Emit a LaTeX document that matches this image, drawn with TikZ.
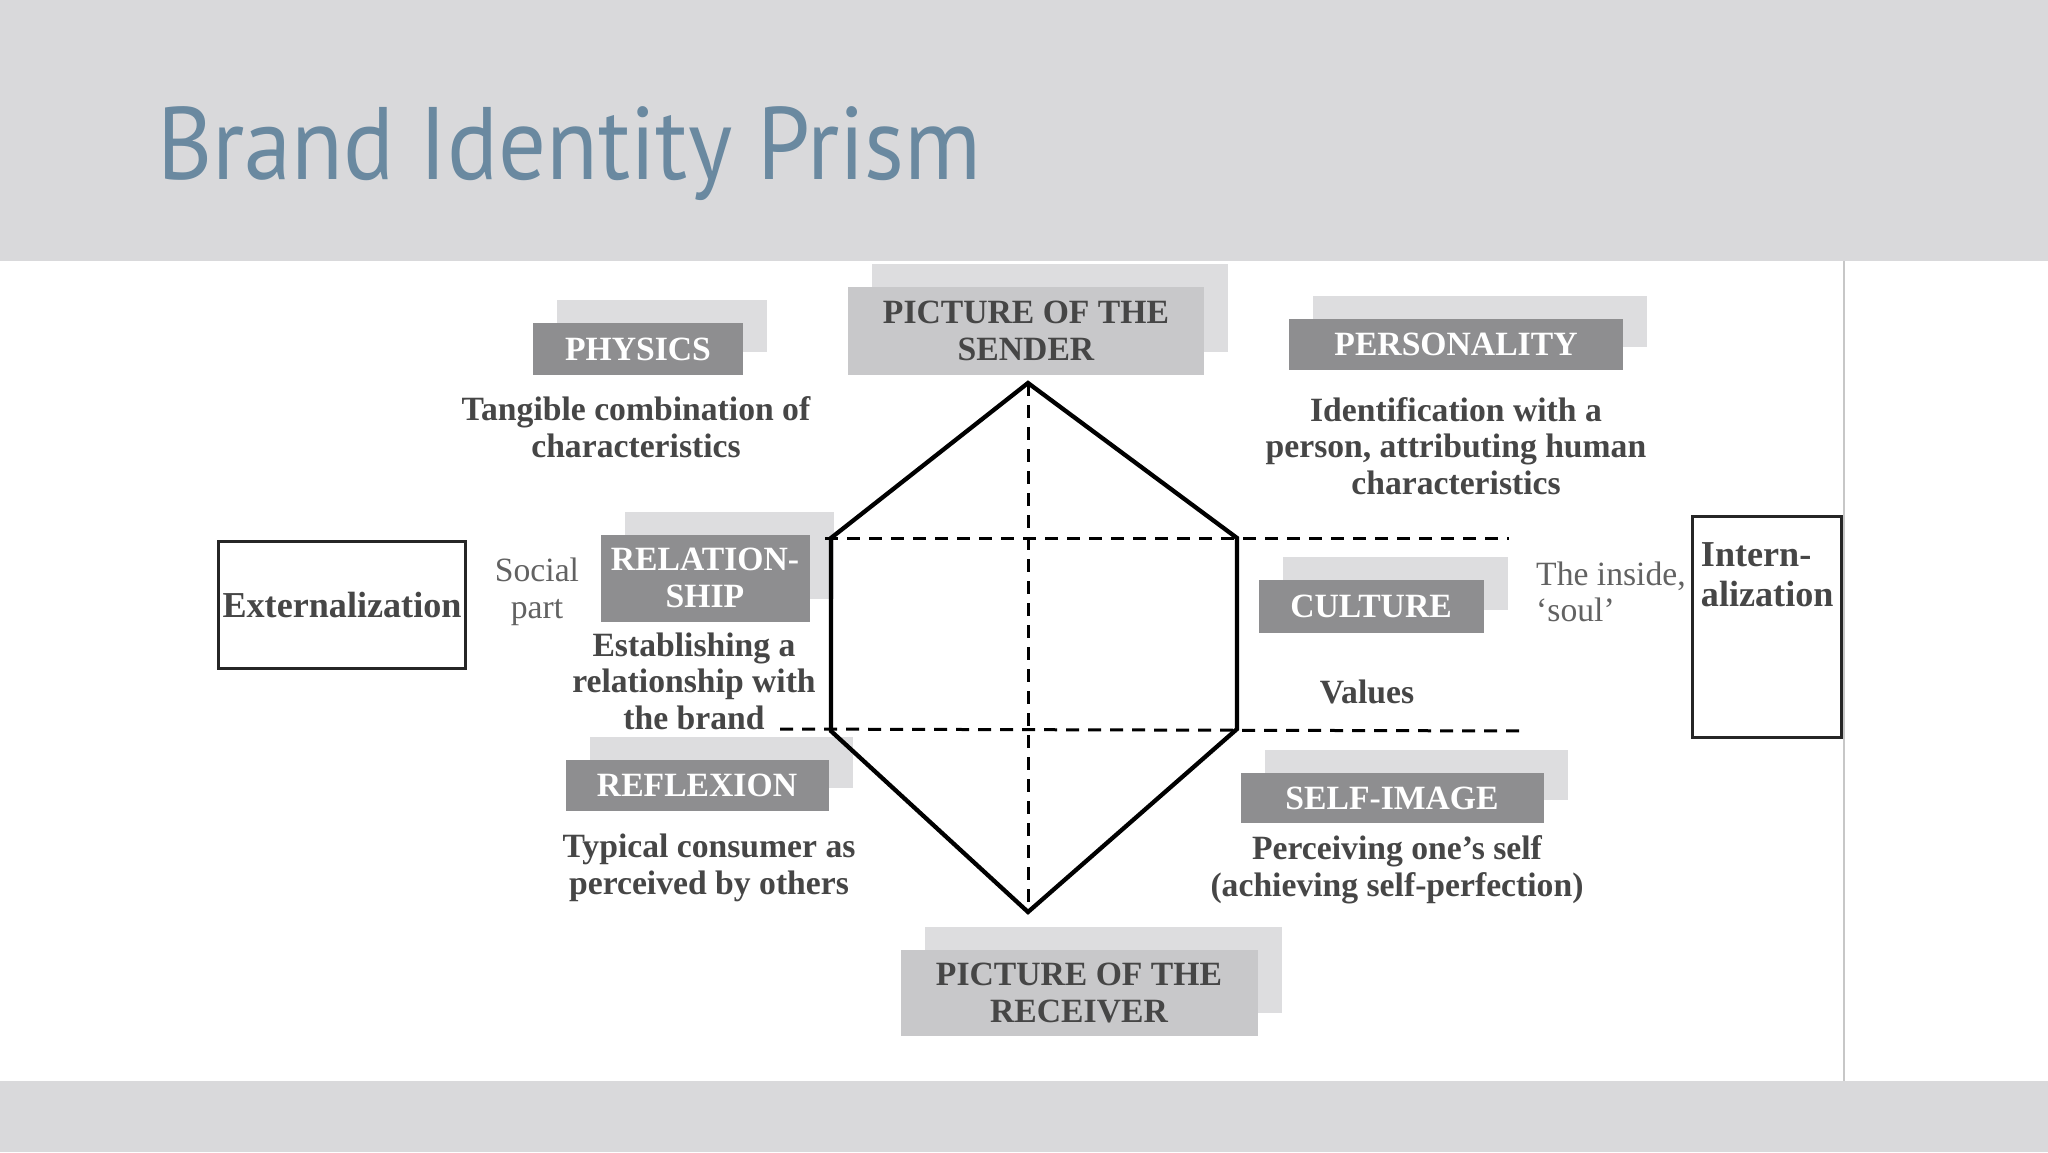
\documentclass[tikz,border=0pt]{standalone}
\usepackage{fontspec}
\usetikzlibrary{calc}
\newfontfamily\diagfont[FakeStretch=0.99]{Liberation Serif}
\newfontfamily\titlefont[FakeStretch=0.92]{PT Sans}
\definecolor{bandgray}{HTML}{D9D9DB}
\definecolor{titleblue}{HTML}{6A89A0}
\definecolor{platedark}{HTML}{8E8E90}
\definecolor{platemid}{HTML}{C8C8CA}
\definecolor{plateback}{HTML}{DDDDDF}
\definecolor{inkgray}{HTML}{464646}

\begin{document}
\begin{tikzpicture}[
    x=1pt,y=-1pt,
    txt/.style={font=\diagfont\fontsize{34}{36.5}\selectfont\bfseries,text=inkgray,
                align=center,inner sep=0pt},
    thin txt/.style={font=\diagfont\fontsize{34}{36.5}\selectfont,text=inkgray!85,
                align=center,inner sep=0pt},
    big txt/.style={font=\diagfont\fontsize{36.5}{40}\selectfont\bfseries,text=inkgray,
                inner sep=0pt},
    backplate/.style={fill=plateback,inner sep=0pt},
    darkplate/.style={fill=platedark,inner sep=0pt,text=white,align=center,
                font=\diagfont\fontsize{34}{36.5}\selectfont\bfseries},
    midplate/.style={fill=platemid,inner sep=0pt,text=inkgray,align=center,
                font=\diagfont\fontsize{34}{36.5}\selectfont\bfseries},
    prism/.style={line width=4.3pt,line join=miter},
    guide/.style={line width=3pt,dash pattern=on 13pt off 9pt},
    frame/.style={draw=black!85,line width=3.5pt,inner sep=0pt},
  ]
  \useasboundingbox (0,0) rectangle (2048,1152);

  % ---------------------------------------------------------------- slide
  \fill[white] (0,261) rectangle (2048,1081);
  \fill[bandgray] (0,0) rectangle (2048,261);
  \fill[bandgray] (0,1081) rectangle (2048,1152);
  \draw[black!22,line width=2pt] (1844,261) -- (1844,1081);
  \node[anchor=base west,inner sep=0pt,text=titleblue,
        font=\titlefont\fontsize{103}{110}\selectfont] (title) at (157,179)
    {Brand Identity Prism};

  % ---------------------------------------------------------------- plates
  % One label: a light plate behind, the named plate in front.
  % #1 = name, #2 = centre, #3 = width, #4 = height, #5 = style, #6 = text
  \newcommand{\plate}[6]{
    \node[backplate,minimum width=#3,minimum height=#4] at ($(#2)+(24,-23)$) {};
    \node[#5,minimum width=#3,minimum height=#4] (#1) at (#2) {#6};
  }
  \plate{physics}{638,349}{210pt}{52pt}{darkplate}{PHYSICS}
  \plate{sender}{1026,331}{356pt}{88pt}{midplate}{PICTURE OF THE\\SENDER}
  \plate{personality}{1456,344}{334pt}{51pt}{darkplate}{PERSONALITY}
  \plate{relationship}{705,578}{209pt}{87pt}{darkplate}{RELATION-\\SHIP}
  \plate{culture}{1371,606}{225pt}{53pt}{darkplate}{CULTURE}
  \plate{reflexion}{697,785}{263pt}{51pt}{darkplate}{REFLEXION}
  \plate{selfimage}{1392,798}{303pt}{50pt}{darkplate}{SELF-IMAGE}
  \plate{receiver}{1079,993}{357pt}{86pt}{midplate}{PICTURE OF THE\\RECEIVER}

  % ---------------------------------------------------------------- prism
  \coordinate (T)  at (1028,383);
  \coordinate (UL) at (831,538);
  \coordinate (UR) at (1237,538);
  \coordinate (LL) at (831,731);
  \coordinate (LR) at (1237,729);
  \coordinate (B)  at (1028,912);
  \coordinate (uw) at (825,538);
  \coordinate (ue) at (1509,538);
  \coordinate (lw) at (780,729);
  \coordinate (le) at (1526,731);
  \draw[guide] (uw) -- (ue);
  \draw[guide] (lw) -- (le);
  \draw[guide] (T) -- (B);
  \draw[prism] (T) -- (UR) -- (LR) -- (B) -- (LL) -- (UL) -- cycle;

  % ---------------------------------------------------------------- texts
  \node[txt] (phystext) at (636,427) {Tangible combination of\\characteristics};
  \node[txt] (perstext) at (1456,446)
    {Identification with a\\person, attributing human\\characteristics};
  \node[thin txt] (social) at (537,592) {Social\\part};
  \node[txt] (reltext) at (694,681) {Establishing a\\relationship with\\the brand};
  \node[thin txt,align=left,anchor=west] (inside) at (1536,592) {The inside,\\‘soul’};
  \node[txt] (values) at (1367,692) {Values};
  \node[txt] (refltext) at (709,868) {Typical consumer as\\perceived by others};
  \node[txt] (selftext) at (1397,870)
    {Perceiving one’s self\\(achieving self-perfection)};

  % ---------------------------------------------------------------- sides
  \node[frame,minimum width=247pt,minimum height=127pt] (ext) at (342,605) {};
  \node[big txt] at (ext) {Externalization};
  \node[frame,minimum width=149pt,minimum height=221pt] (int) at (1767,627) {};
  \node[big txt,align=left,anchor=north west] at ($(int.north west)+(10,28)$)
    {Intern-\\alization};
\end{tikzpicture}
\end{document}
